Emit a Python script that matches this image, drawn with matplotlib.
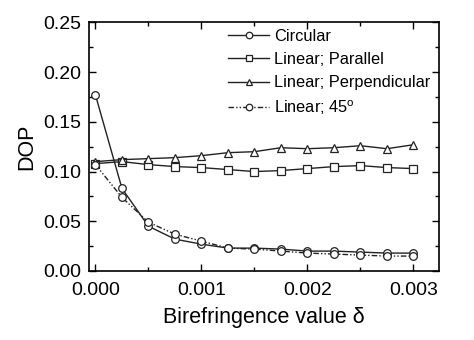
import matplotlib
matplotlib.use("Agg")
import matplotlib.pyplot as plt
from matplotlib.ticker import MultipleLocator, FormatStrFormatter

plt.rcParams['font.family'] = ['Liberation Sans', 'DejaVu Sans']

delta = [0.0, 0.00025, 0.0005, 0.00075, 0.001, 0.00125, 0.0015,
         0.00175, 0.002, 0.00225, 0.0025, 0.00275, 0.003]
circular = [0.177, 0.083, 0.045, 0.032, 0.027, 0.023, 0.023,
            0.022, 0.020, 0.020, 0.019, 0.018, 0.018]
parallel = [0.108, 0.110, 0.107, 0.105, 0.104, 0.102, 0.100,
            0.101, 0.103, 0.105, 0.106, 0.104, 0.103]
perpendicular = [0.110, 0.112, 0.113, 0.114, 0.116, 0.119, 0.120,
                 0.124, 0.123, 0.124, 0.126, 0.123, 0.127]
linear45 = [0.107, 0.074, 0.049, 0.037, 0.030, 0.023, 0.022,
            0.020, 0.018, 0.017, 0.016, 0.015, 0.015]

fig = plt.figure(figsize=(4.74, 3.4), dpi=100)
ax = fig.add_axes([0.188, 0.203, 0.738, 0.731])

mk = dict(markerfacecolor='white', markeredgecolor='#222222', markersize=5.5,
          markeredgewidth=0.9, color='#222222', linewidth=1.0)
ax.plot(delta, circular, '-', marker='o', label='Circular', **mk)
ax.plot(delta, parallel, '-', marker='s', label='Linear; Parallel', **mk)
ax.plot(delta, perpendicular, '-', marker='^', label='Linear; Perpendicular', **mk)
ax.plot(delta, linear45, marker='o', linestyle=(0, (4, 1.5, 1, 1.5, 1, 1.5)),
        label='Linear; 45$^\\mathregular{o}$', **mk)

ax.set_xlim(-0.00006, 0.00324)
ax.set_ylim(0.0, 0.25)
ax.xaxis.set_major_locator(MultipleLocator(0.001))
ax.xaxis.set_minor_locator(MultipleLocator(0.0005))
ax.yaxis.set_major_locator(MultipleLocator(0.05))
ax.yaxis.set_minor_locator(MultipleLocator(0.025))
ax.xaxis.set_major_formatter(FormatStrFormatter('%.3f'))
ax.yaxis.set_major_formatter(FormatStrFormatter('%.2f'))
ax.tick_params(which='both', direction='in', top=True, right=True,
               labeltop=False, labelright=False, width=1.0)
ax.tick_params(which='major', length=5, labelsize=14)
ax.tick_params(which='minor', length=3)
ax.tick_params(axis='x', which='major', pad=8)
ax.tick_params(axis='y', which='major', pad=6)
for s in ax.spines.values():
    s.set_linewidth(1.2)

ax.set_xlabel('Birefringence value δ', fontsize=15.5, labelpad=6)
ax.set_ylabel('DOP', fontsize=15.5, labelpad=4)

ax.legend(loc='upper right', frameon=False, fontsize=11.8, handlelength=2.5,
          handletextpad=0.3, labelspacing=0.5, borderaxespad=0.0,
          borderpad=0.4, markerscale=0.85, bbox_to_anchor=(0.995, 1.0))

fig.savefig('out.png', dpi=100)
